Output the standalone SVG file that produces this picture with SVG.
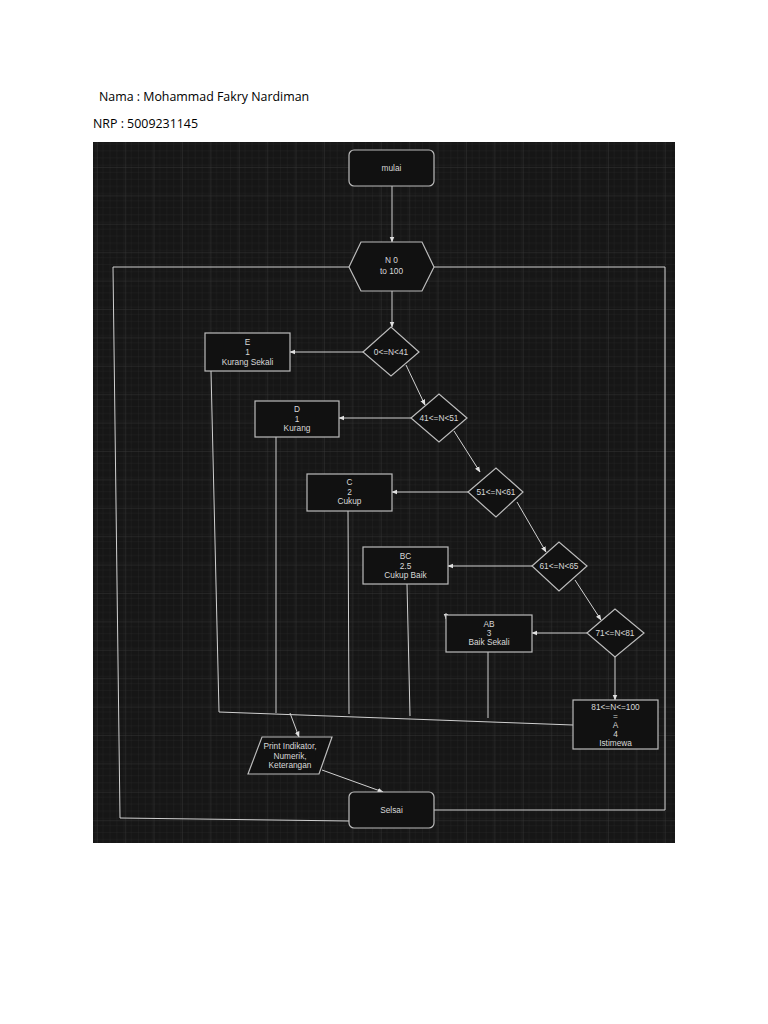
<svg xmlns="http://www.w3.org/2000/svg" width="768" height="1024" viewBox="0 0 768 1024">
<defs>
<pattern id="minor" x="12.6" y="26" width="7.1" height="7.1" patternUnits="userSpaceOnUse">
<path d="M7.1 0 V7.1 M0 7.1 H7.1" fill="none" stroke="#292929" stroke-width="0.7"/>
</pattern>
<pattern id="major" x="12.6" y="26" width="28.4" height="28.4" patternUnits="userSpaceOnUse">
<rect width="28.4" height="28.4" fill="url(#minor)"/>
<path d="M28.4 0 V28.4 M0 28.4 H28.4" fill="none" stroke="#3b3b3b" stroke-width="0.8"/>
</pattern>
<marker id="arr" viewBox="0 0 10 10" refX="9" refY="5" markerWidth="6" markerHeight="6" orient="auto" markerUnits="userSpaceOnUse">
<path d="M0 1 L10 5 L0 9 Z" fill="#e0e0e0"/>
</marker>
<style>
.hdr{font-family:"Open Sans","Liberation Sans",sans-serif;font-size:12.4px;fill:#000}
.node rect,.node polygon{fill:#111;stroke:#bcbcbc;stroke-width:1.2}
.node text{font-family:"Liberation Sans",Arial,sans-serif;font-size:8.3px;fill:#d8d8d8;text-anchor:middle}
.conn path{fill:none;stroke:#d0d0d0;stroke-width:1}
.conn .a{marker-end:url(#arr)}
</style>
</defs>
<rect width="768" height="1024" fill="#fff"/>
<text class="hdr" x="99" y="101">Nama : Mohammad Fakry Nardiman</text>
<text class="hdr" x="93" y="128">NRP : 5009231145</text>
<rect x="93" y="142" width="582" height="701" fill="#161616"/>
<rect x="93" y="142" width="582" height="701" fill="url(#major)"/>

<g class="conn" id="connectors">
<path d="M349 267 H113 L120 818 L349 821"/>
<path d="M434 267 H665 V810 H434"/>
<path class="a" d="M392 186 V242"/>
<path class="a" d="M392 291 V327"/>
<path class="a" d="M363 352 H290"/>
<path class="a" d="M406 365 L425 405"/>
<path class="a" d="M411 418 H339"/>
<path class="a" d="M454 431 L480 472"/>
<path class="a" d="M468 492 H392"/>
<path class="a" d="M517 502 L546 552"/>
<path class="a" d="M532 566 H448"/>
<path class="a" d="M575 580 L601 620"/>
<path class="a" d="M587 633 H532"/>
<path class="a" d="M615 657 V700"/>
<path class="a" d="M446 613 V619"/>
<path d="M211 371 L219 712"/>
<path d="M276 437 V713"/>
<path d="M348 511 L349 714"/>
<path d="M407 584 L410 716"/>
<path d="M488 652 V718"/>
<path d="M219 712 L573 725"/>
<path class="a" d="M290 713 L299 737"/>
<path class="a" d="M322 770 L383 792"/>
</g>

<g class="node" id="mulai">
<rect x="349" y="150" width="85" height="36" rx="5"/>
<text x="391.5" y="171">mulai</text>
</g>
<g class="node" id="input">
<polygon points="349,267 361,242 422,242 434,267 422,291 361,291"/>
<text x="391.5" y="263">N 0</text>
<text x="391.5" y="274">to 100</text>
</g>
<g class="node" id="d1">
<polygon points="363,352 391,327 419,352 391,376"/>
<text x="391" y="355">0&lt;=N&lt;41</text>
</g>
<g class="node" id="E">
<rect x="205" y="333" width="85" height="38"/>
<text x="247.5" y="345">E</text>
<text x="247.5" y="355">1</text>
<text x="247.5" y="365">Kurang Sekali</text>
</g>
<g class="node" id="d2">
<polygon points="411,418 439,394 467,418 439,442"/>
<text x="439" y="421">41&lt;=N&lt;51</text>
</g>
<g class="node" id="D">
<rect x="255" y="401" width="84" height="36"/>
<text x="297" y="412">D</text>
<text x="297" y="422">1</text>
<text x="297" y="431">Kurang</text>
</g>
<g class="node" id="d3">
<polygon points="468,492 496,468 523,492 496,517"/>
<text x="496" y="495">51&lt;=N&lt;61</text>
</g>
<g class="node" id="C">
<rect x="307" y="474" width="85" height="37"/>
<text x="349.5" y="485">C</text>
<text x="349.5" y="495">2</text>
<text x="349.5" y="504">Cukup</text>
</g>
<g class="node" id="d4">
<polygon points="532,566 559,542 587,566 559,591"/>
<text x="559" y="569">61&lt;=N&lt;65</text>
</g>
<g class="node" id="BC">
<rect x="363" y="547" width="85" height="37"/>
<text x="405.5" y="559">BC</text>
<text x="405.5" y="569">2.5</text>
<text x="405.5" y="578">Cukup Baik</text>
</g>
<g class="node" id="d5">
<polygon points="587,633 615,609 644,633 615,657"/>
<text x="615" y="636">71&lt;=N&lt;81</text>
</g>
<g class="node" id="AB">
<rect x="446" y="615" width="86" height="37"/>
<text x="489" y="627">AB</text>
<text x="489" y="636">3</text>
<text x="489" y="645">Baik Sekali</text>
</g>
<g class="node" id="A">
<rect x="573" y="700" width="85" height="49"/>
<text x="615.5" y="710">81&lt;=N&lt;=100</text>
<text x="615.5" y="719">=</text>
<text x="615.5" y="728">A</text>
<text x="615.5" y="737">4</text>
<text x="615.5" y="746">Istimewa</text>
</g>
<g class="node" id="print">
<polygon points="262,737 332,737 319,774 248,774"/>
<text x="290" y="749">Print Indikator,</text>
<text x="290" y="759">Numerik,</text>
<text x="290" y="768">Keterangan</text>
</g>
<g class="node" id="selsai">
<rect x="349" y="792" width="85" height="36" rx="5"/>
<text x="391.5" y="813">Selsai</text>
</g>
</svg>
